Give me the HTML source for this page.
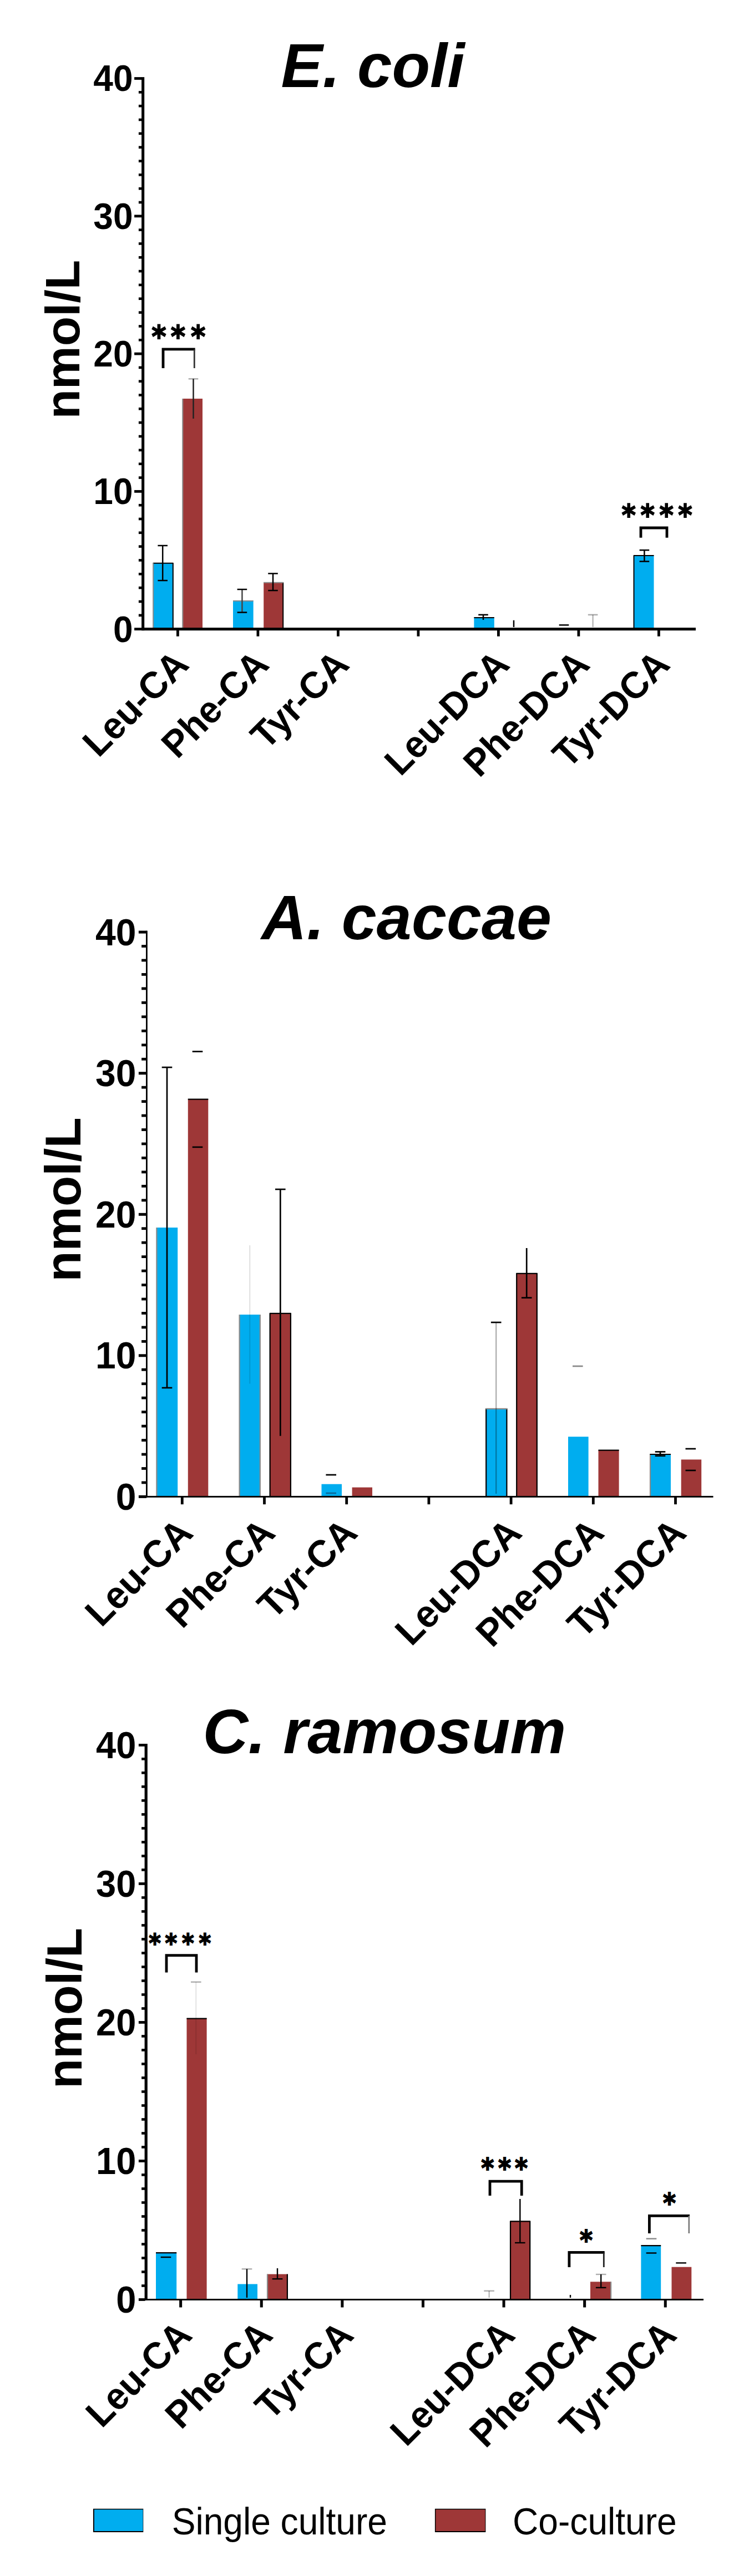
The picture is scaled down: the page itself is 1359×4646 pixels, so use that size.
<!DOCTYPE html>
<html lang="en">
<head>
<meta charset="utf-8">
<title>Bile acid conjugates</title>
<style>
html,body{margin:0;padding:0;background:#fff;}
svg{display:block;}
text{font-family:"Liberation Sans",Arial,sans-serif;fill:#000;}
text.st{font-family:"DejaVu Sans","Liberation Sans",sans-serif;font-weight:bold;stroke:#000;stroke-width:1.8px;stroke-linejoin:miter;}
</style>
</head>
<body>
<svg width="1359" height="4646" viewBox="0 0 1359 4646">
<rect x="0" y="0" width="1359" height="4646" fill="#fff"/>
<rect x="275.7" y="1015.3" width="36.6" height="119.3" fill="#00adef"/>
<line x1="275.7" y1="1015.8" x2="312.3" y2="1015.8" stroke="#000" stroke-width="2"/>
<line x1="311.8" y1="1015.3" x2="311.8" y2="1134.6" stroke="#000" stroke-width="2"/>
<line x1="276.2" y1="1015.3" x2="276.2" y2="1134.6" stroke="#8a8a8a" stroke-width="2"/>
<rect x="328.8" y="719" width="36.2" height="415.6" fill="#9e3737"/>
<line x1="329.3" y1="719" x2="329.3" y2="1134.6" stroke="#8a8a8a" stroke-width="2"/>
<rect x="420" y="1083.2" width="36.6" height="51.4" fill="#00adef"/>
<line x1="420" y1="1083.7" x2="456.6" y2="1083.7" stroke="#8a8a8a" stroke-width="2"/>
<rect x="475.2" y="1050.3" width="35.5" height="84.3" fill="#9e3737"/>
<line x1="510.2" y1="1050.3" x2="510.2" y2="1134.6" stroke="#000" stroke-width="2"/>
<line x1="475.2" y1="1050.8" x2="510.7" y2="1050.8" stroke="#8a8a8a" stroke-width="2"/>
<rect x="854.4" y="1113.4" width="36.4" height="21.2" fill="#00adef"/>
<line x1="854.4" y1="1113.9" x2="890.8" y2="1113.9" stroke="#000" stroke-width="2"/>
<rect x="1142" y="1001.5" width="36.5" height="133.1" fill="#00adef"/>
<line x1="1142" y1="1002" x2="1178.5" y2="1002" stroke="#000" stroke-width="2"/>
<line x1="1142.5" y1="1001.5" x2="1142.5" y2="1134.6" stroke="#000" stroke-width="2"/>
<line x1="293.2" y1="984" x2="293.2" y2="1047" stroke="#000" stroke-width="2.5"/>
<line x1="284.4" y1="984" x2="302" y2="984" stroke="#000" stroke-width="2.5"/>
<line x1="284.4" y1="1047" x2="302" y2="1047" stroke="#000" stroke-width="2.5"/>
<line x1="348.5" y1="683.3" x2="348.5" y2="755" stroke="#222" stroke-width="2.5"/>
<line x1="339.7" y1="683.3" x2="357.3" y2="683.3" stroke="#000" stroke-width="2.5" stroke-opacity="0.32"/>
<line x1="436.4" y1="1063" x2="436.4" y2="1104.5" stroke="#444" stroke-width="2.5"/>
<line x1="427.6" y1="1063" x2="445.2" y2="1063" stroke="#000" stroke-width="2.5"/>
<line x1="427.6" y1="1104.5" x2="445.2" y2="1104.5" stroke="#000" stroke-width="2.5"/>
<line x1="492" y1="1034.4" x2="492" y2="1065" stroke="#000" stroke-width="2.5"/>
<line x1="483.2" y1="1034.4" x2="500.8" y2="1034.4" stroke="#000" stroke-width="2.5"/>
<line x1="483.2" y1="1065" x2="500.8" y2="1065" stroke="#000" stroke-width="2.5"/>
<line x1="871" y1="1108.8" x2="871" y2="1118" stroke="#000" stroke-width="2.5"/>
<line x1="862.2" y1="1108.8" x2="879.8" y2="1108.8" stroke="#000" stroke-width="2.5"/>
<line x1="926" y1="1118.7" x2="926" y2="1131" stroke="#000" stroke-width="2.5"/>
<line x1="1007.7" y1="1127.3" x2="1025.3" y2="1127.3" stroke="#000" stroke-width="2.5"/>
<line x1="1068.6" y1="1108.8" x2="1068.6" y2="1131" stroke="#000" stroke-width="2.12" stroke-opacity="0.32"/>
<line x1="1059.8" y1="1108.8" x2="1077.4" y2="1108.8" stroke="#000" stroke-width="2.5" stroke-opacity="0.32"/>
<line x1="1161.4" y1="992.2" x2="1161.4" y2="1012.6" stroke="#000" stroke-width="2.5"/>
<line x1="1152.6" y1="992.2" x2="1170.2" y2="992.2" stroke="#000" stroke-width="2.5"/>
<line x1="1152.6" y1="1012.6" x2="1170.2" y2="1012.6" stroke="#000" stroke-width="2.5"/>
<rect x="255.1" y="139.1" width="5.1" height="998.05" fill="#000"/>
<rect x="255.1" y="1132.05" width="998.9" height="5.1" fill="#000"/>
<rect x="242.1" y="1132.2" width="14" height="4.8" fill="#000"/>
<rect x="249.9" y="1107.47" width="6.2" height="4.6" fill="#000"/>
<rect x="249.9" y="1082.64" width="6.2" height="4.6" fill="#000"/>
<rect x="249.9" y="1057.82" width="6.2" height="4.6" fill="#000"/>
<rect x="249.9" y="1032.99" width="6.2" height="4.6" fill="#000"/>
<rect x="249.9" y="1008.16" width="6.2" height="4.6" fill="#000"/>
<rect x="249.9" y="983.34" width="6.2" height="4.6" fill="#000"/>
<rect x="249.9" y="958.51" width="6.2" height="4.6" fill="#000"/>
<rect x="249.9" y="933.68" width="6.2" height="4.6" fill="#000"/>
<rect x="249.9" y="908.85" width="6.2" height="4.6" fill="#000"/>
<rect x="242.1" y="883.92" width="14" height="4.8" fill="#000"/>
<rect x="249.9" y="859.2" width="6.2" height="4.6" fill="#000"/>
<rect x="249.9" y="834.37" width="6.2" height="4.6" fill="#000"/>
<rect x="249.9" y="809.54" width="6.2" height="4.6" fill="#000"/>
<rect x="249.9" y="784.71" width="6.2" height="4.6" fill="#000"/>
<rect x="249.9" y="759.89" width="6.2" height="4.6" fill="#000"/>
<rect x="249.9" y="735.06" width="6.2" height="4.6" fill="#000"/>
<rect x="249.9" y="710.23" width="6.2" height="4.6" fill="#000"/>
<rect x="249.9" y="685.4" width="6.2" height="4.6" fill="#000"/>
<rect x="249.9" y="660.58" width="6.2" height="4.6" fill="#000"/>
<rect x="242.1" y="635.65" width="14" height="4.8" fill="#000"/>
<rect x="249.9" y="610.92" width="6.2" height="4.6" fill="#000"/>
<rect x="249.9" y="586.1" width="6.2" height="4.6" fill="#000"/>
<rect x="249.9" y="561.27" width="6.2" height="4.6" fill="#000"/>
<rect x="249.9" y="536.44" width="6.2" height="4.6" fill="#000"/>
<rect x="249.9" y="511.61" width="6.2" height="4.6" fill="#000"/>
<rect x="249.9" y="486.79" width="6.2" height="4.6" fill="#000"/>
<rect x="249.9" y="461.96" width="6.2" height="4.6" fill="#000"/>
<rect x="249.9" y="437.13" width="6.2" height="4.6" fill="#000"/>
<rect x="249.9" y="412.3" width="6.2" height="4.6" fill="#000"/>
<rect x="242.1" y="387.38" width="14" height="4.8" fill="#000"/>
<rect x="249.9" y="362.65" width="6.2" height="4.6" fill="#000"/>
<rect x="249.9" y="337.82" width="6.2" height="4.6" fill="#000"/>
<rect x="249.9" y="312.99" width="6.2" height="4.6" fill="#000"/>
<rect x="249.9" y="288.17" width="6.2" height="4.6" fill="#000"/>
<rect x="249.9" y="263.34" width="6.2" height="4.6" fill="#000"/>
<rect x="249.9" y="238.51" width="6.2" height="4.6" fill="#000"/>
<rect x="249.9" y="213.68" width="6.2" height="4.6" fill="#000"/>
<rect x="249.9" y="188.85" width="6.2" height="4.6" fill="#000"/>
<rect x="249.9" y="164.03" width="6.2" height="4.6" fill="#000"/>
<rect x="242.1" y="139.1" width="14" height="4.8" fill="#000"/>
<text transform="translate(239.5 1157.51) scale(1 1.04)" font-size="64" font-weight="bold" font-style="normal" text-anchor="end">0</text>
<text transform="translate(239.5 909.24) scale(1 1.04)" font-size="64" font-weight="bold" font-style="normal" text-anchor="end">10</text>
<text transform="translate(239.5 660.96) scale(1 1.04)" font-size="64" font-weight="bold" font-style="normal" text-anchor="end">20</text>
<text transform="translate(239.5 412.69) scale(1 1.04)" font-size="64" font-weight="bold" font-style="normal" text-anchor="end">30</text>
<text transform="translate(239.5 164.41) scale(1 1.04)" font-size="64" font-weight="bold" font-style="normal" text-anchor="end">40</text>
<rect x="318" y="1134.6" width="4.8" height="13.1" fill="#000"/>
<rect x="462.5" y="1134.6" width="4.8" height="13.1" fill="#000"/>
<rect x="607" y="1134.6" width="4.8" height="13.1" fill="#000"/>
<rect x="751.5" y="1134.6" width="4.8" height="13.1" fill="#000"/>
<rect x="896" y="1134.6" width="4.8" height="13.1" fill="#000"/>
<rect x="1040.5" y="1134.6" width="4.8" height="13.1" fill="#000"/>
<rect x="1185" y="1134.6" width="4.8" height="13.1" fill="#000"/>
<text transform="translate(343.4 1202.1) rotate(-45) scale(1 1.03)" font-size="66" font-weight="bold" font-style="normal" text-anchor="end">Leu-CA</text>
<text transform="translate(487.9 1202.1) rotate(-45) scale(1 1.03)" font-size="66" font-weight="bold" font-style="normal" text-anchor="end">Phe-CA</text>
<text transform="translate(632.4 1202.1) rotate(-45) scale(1 1.03)" font-size="66" font-weight="bold" font-style="normal" text-anchor="end">Tyr-CA</text>
<text transform="translate(921.4 1202.1) rotate(-45) scale(1 1.03)" font-size="66" font-weight="bold" font-style="normal" text-anchor="end">Leu-DCA</text>
<text transform="translate(1065.9 1202.1) rotate(-45) scale(1 1.03)" font-size="66" font-weight="bold" font-style="normal" text-anchor="end">Phe-DCA</text>
<text transform="translate(1210.4 1202.1) rotate(-45) scale(1 1.03)" font-size="66" font-weight="bold" font-style="normal" text-anchor="end">Tyr-DCA</text>
<text transform="translate(142.5 612.1) rotate(-90) scale(1 1.005)" font-size="87.5" font-weight="bold" font-style="normal" text-anchor="middle">nmol/L</text>
<text transform="translate(672 156.8) scale(1.03 1.025)" font-size="109.2" font-weight="bold" font-style="italic" text-anchor="middle">E. coli</text>
<path d="M294 664 V629.8 H351.7" fill="none" stroke="#000" stroke-width="4.8" stroke-linejoin="miter"/>
<line x1="350.3" y1="629.8" x2="350.3" y2="664" stroke="#333" stroke-width="2.8"/>
<text class="st" transform="translate(273.29 626.1) scale(0.9 1)" x="0 38.33 78.67" y="0" font-size="56">***</text>
<path d="M1155 969.7 V952 H1202 V969.7" fill="none" stroke="#000" stroke-width="4.8" stroke-linejoin="miter"/>
<text class="st" transform="translate(1120.43 947.8) scale(0.9 1)" x="0 38 75.78 113.11" y="0" font-size="54">****</text>
<rect x="281.8" y="2214" width="38.4" height="485.4" fill="#00adef"/>
<line x1="282.4" y1="2214" x2="282.4" y2="2699.4" stroke="#8a8a8a" stroke-width="2.2"/>
<rect x="338.8" y="1982" width="36.5" height="717.4" fill="#9e3737"/>
<line x1="338.8" y1="1982.6" x2="375.3" y2="1982.6" stroke="#000" stroke-width="2.2"/>
<rect x="431" y="2371" width="38.4" height="328.4" fill="#00adef"/>
<line x1="431.6" y1="2371" x2="431.6" y2="2699.4" stroke="#8a8a8a" stroke-width="2.2"/>
<line x1="468.8" y1="2371" x2="468.8" y2="2699.4" stroke="#8a8a8a" stroke-width="2.2"/>
<rect x="486" y="2368.3" width="38.5" height="331.1" fill="#9e3737"/>
<line x1="486.6" y1="2368.3" x2="486.6" y2="2699.4" stroke="#000" stroke-width="2.2"/>
<line x1="486" y1="2368.9" x2="524.5" y2="2368.9" stroke="#000" stroke-width="2.2"/>
<line x1="523.9" y1="2368.3" x2="523.9" y2="2699.4" stroke="#000" stroke-width="2.2"/>
<rect x="579.5" y="2676.7" width="36.5" height="22.7" fill="#00adef"/>
<rect x="634.6" y="2682.6" width="36.4" height="16.8" fill="#9e3737"/>
<rect x="875.6" y="2540.2" width="38.4" height="159.2" fill="#00adef"/>
<line x1="876.2" y1="2540.2" x2="876.2" y2="2699.4" stroke="#000" stroke-width="2.2"/>
<line x1="913.4" y1="2540.2" x2="913.4" y2="2699.4" stroke="#000" stroke-width="2.2"/>
<line x1="875.6" y1="2540.8" x2="914" y2="2540.8" stroke="#8a8a8a" stroke-width="2.2"/>
<rect x="930.6" y="2296.2" width="37.8" height="403.2" fill="#9e3737"/>
<line x1="931.2" y1="2296.2" x2="931.2" y2="2699.4" stroke="#000" stroke-width="2.2"/>
<line x1="930.6" y1="2296.8" x2="968.4" y2="2296.8" stroke="#000" stroke-width="2.2"/>
<line x1="967.8" y1="2296.2" x2="967.8" y2="2699.4" stroke="#000" stroke-width="2.2"/>
<rect x="1024" y="2591.2" width="36.6" height="108.2" fill="#00adef"/>
<rect x="1078.5" y="2615" width="37.1" height="84.4" fill="#9e3737"/>
<line x1="1078.5" y1="2615.6" x2="1115.6" y2="2615.6" stroke="#000" stroke-width="2.2"/>
<rect x="1171.4" y="2622.4" width="37.6" height="77" fill="#00adef"/>
<line x1="1172" y1="2622.4" x2="1172" y2="2699.4" stroke="#8a8a8a" stroke-width="2.2"/>
<line x1="1171.4" y1="2623" x2="1209" y2="2623" stroke="#000" stroke-width="2.2"/>
<rect x="1227.7" y="2632.4" width="36.5" height="67" fill="#9e3737"/>
<line x1="301" y1="1925" x2="301" y2="2503" stroke="#000" stroke-width="2.7"/>
<line x1="291.7" y1="1925" x2="310.3" y2="1925" stroke="#000" stroke-width="2.7"/>
<line x1="291.7" y1="2503" x2="310.3" y2="2503" stroke="#000" stroke-width="2.7"/>
<line x1="346.7" y1="1896.5" x2="365.3" y2="1896.5" stroke="#000" stroke-width="2.7"/>
<line x1="346.7" y1="2068.9" x2="365.3" y2="2068.9" stroke="#000" stroke-width="2.7"/>
<line x1="450.2" y1="2246" x2="450.2" y2="2495.6" stroke="#000" stroke-width="2.29" stroke-opacity="0.11"/>
<line x1="505.3" y1="2145" x2="505.3" y2="2589.8" stroke="#000" stroke-width="2.7"/>
<line x1="496" y1="2145" x2="514.6" y2="2145" stroke="#000" stroke-width="2.7"/>
<line x1="587.4" y1="2660" x2="606" y2="2660" stroke="#000" stroke-width="2.7"/>
<line x1="587.4" y1="2693" x2="606" y2="2693" stroke="#0b6a9a" stroke-width="2.7"/>
<line x1="894.2" y1="2385" x2="894.2" y2="2694" stroke="#000" stroke-width="2.29" stroke-opacity="0.32"/>
<line x1="884.9" y1="2385" x2="903.5" y2="2385" stroke="#000" stroke-width="2.7"/>
<line x1="949.2" y1="2251" x2="949.2" y2="2340.6" stroke="#000" stroke-width="2.7"/>
<line x1="939.9" y1="2340.6" x2="958.5" y2="2340.6" stroke="#000" stroke-width="2.7"/>
<line x1="1032" y1="2464" x2="1050.6" y2="2464" stroke="#888" stroke-width="2.7"/>
<line x1="1190" y1="2618.4" x2="1190" y2="2625.7" stroke="#000" stroke-width="2.7"/>
<line x1="1180.7" y1="2618.4" x2="1199.3" y2="2618.4" stroke="#000" stroke-width="2.7"/>
<line x1="1180.7" y1="2625.7" x2="1199.3" y2="2625.7" stroke="#000" stroke-width="2.7"/>
<line x1="1235.5" y1="2613" x2="1254.1" y2="2613" stroke="#000" stroke-width="2.7"/>
<line x1="1235.5" y1="2652" x2="1254.1" y2="2652" stroke="#000" stroke-width="2.7"/>
<rect x="263" y="1678.6" width="2.8" height="1022.25" fill="#000"/>
<rect x="263" y="2697.95" width="1022.5" height="2.9" fill="#000"/>
<rect x="249.9" y="2696.9" width="14.1" height="5" fill="#000"/>
<rect x="255.1" y="2671.54" width="8.9" height="4.8" fill="#000"/>
<rect x="255.1" y="2646.09" width="8.9" height="4.8" fill="#000"/>
<rect x="255.1" y="2620.63" width="8.9" height="4.8" fill="#000"/>
<rect x="255.1" y="2595.17" width="8.9" height="4.8" fill="#000"/>
<rect x="255.1" y="2569.71" width="8.9" height="4.8" fill="#000"/>
<rect x="255.1" y="2544.26" width="8.9" height="4.8" fill="#000"/>
<rect x="255.1" y="2518.8" width="8.9" height="4.8" fill="#000"/>
<rect x="255.1" y="2493.34" width="8.9" height="4.8" fill="#000"/>
<rect x="255.1" y="2467.88" width="8.9" height="4.8" fill="#000"/>
<rect x="249.9" y="2442.32" width="14.1" height="5" fill="#000"/>
<rect x="255.1" y="2416.97" width="8.9" height="4.8" fill="#000"/>
<rect x="255.1" y="2391.51" width="8.9" height="4.8" fill="#000"/>
<rect x="255.1" y="2366.05" width="8.9" height="4.8" fill="#000"/>
<rect x="255.1" y="2340.59" width="8.9" height="4.8" fill="#000"/>
<rect x="255.1" y="2315.14" width="8.9" height="4.8" fill="#000"/>
<rect x="255.1" y="2289.68" width="8.9" height="4.8" fill="#000"/>
<rect x="255.1" y="2264.22" width="8.9" height="4.8" fill="#000"/>
<rect x="255.1" y="2238.76" width="8.9" height="4.8" fill="#000"/>
<rect x="255.1" y="2213.31" width="8.9" height="4.8" fill="#000"/>
<rect x="249.9" y="2187.75" width="14.1" height="5" fill="#000"/>
<rect x="255.1" y="2162.39" width="8.9" height="4.8" fill="#000"/>
<rect x="255.1" y="2136.93" width="8.9" height="4.8" fill="#000"/>
<rect x="255.1" y="2111.48" width="8.9" height="4.8" fill="#000"/>
<rect x="255.1" y="2086.02" width="8.9" height="4.8" fill="#000"/>
<rect x="255.1" y="2060.56" width="8.9" height="4.8" fill="#000"/>
<rect x="255.1" y="2035.11" width="8.9" height="4.8" fill="#000"/>
<rect x="255.1" y="2009.65" width="8.9" height="4.8" fill="#000"/>
<rect x="255.1" y="1984.19" width="8.9" height="4.8" fill="#000"/>
<rect x="255.1" y="1958.73" width="8.9" height="4.8" fill="#000"/>
<rect x="249.9" y="1933.17" width="14.1" height="5" fill="#000"/>
<rect x="255.1" y="1907.82" width="8.9" height="4.8" fill="#000"/>
<rect x="255.1" y="1882.36" width="8.9" height="4.8" fill="#000"/>
<rect x="255.1" y="1856.9" width="8.9" height="4.8" fill="#000"/>
<rect x="255.1" y="1831.44" width="8.9" height="4.8" fill="#000"/>
<rect x="255.1" y="1805.99" width="8.9" height="4.8" fill="#000"/>
<rect x="255.1" y="1780.53" width="8.9" height="4.8" fill="#000"/>
<rect x="255.1" y="1755.07" width="8.9" height="4.8" fill="#000"/>
<rect x="255.1" y="1729.61" width="8.9" height="4.8" fill="#000"/>
<rect x="255.1" y="1704.16" width="8.9" height="4.8" fill="#000"/>
<rect x="249.9" y="1678.6" width="14.1" height="5" fill="#000"/>
<text transform="translate(245.5 2723.03) scale(1 1.04)" font-size="66" font-weight="bold" font-style="normal" text-anchor="end">0</text>
<text transform="translate(245.5 2468.45) scale(1 1.04)" font-size="66" font-weight="bold" font-style="normal" text-anchor="end">10</text>
<text transform="translate(245.5 2213.88) scale(1 1.04)" font-size="66" font-weight="bold" font-style="normal" text-anchor="end">20</text>
<text transform="translate(245.5 1959.3) scale(1 1.04)" font-size="66" font-weight="bold" font-style="normal" text-anchor="end">30</text>
<text transform="translate(245.5 1704.73) scale(1 1.04)" font-size="66" font-weight="bold" font-style="normal" text-anchor="end">40</text>
<rect x="325.9" y="2699.4" width="4.8" height="13.8" fill="#000"/>
<rect x="474.1" y="2699.4" width="4.8" height="13.8" fill="#000"/>
<rect x="622.3" y="2699.4" width="4.8" height="13.8" fill="#000"/>
<rect x="770.5" y="2699.4" width="4.8" height="13.8" fill="#000"/>
<rect x="918.7" y="2699.4" width="4.8" height="13.8" fill="#000"/>
<rect x="1066.9" y="2699.4" width="4.8" height="13.8" fill="#000"/>
<rect x="1215.1" y="2699.4" width="4.8" height="13.8" fill="#000"/>
<text transform="translate(351 2768.4) rotate(-45) scale(1 1.03)" font-size="67" font-weight="bold" font-style="normal" text-anchor="end">Leu-CA</text>
<text transform="translate(499.2 2768.4) rotate(-45) scale(1 1.03)" font-size="67" font-weight="bold" font-style="normal" text-anchor="end">Phe-CA</text>
<text transform="translate(647.4 2768.4) rotate(-45) scale(1 1.03)" font-size="67" font-weight="bold" font-style="normal" text-anchor="end">Tyr-CA</text>
<text transform="translate(943.8 2768.4) rotate(-45) scale(1 1.03)" font-size="67" font-weight="bold" font-style="normal" text-anchor="end">Leu-DCA</text>
<text transform="translate(1092 2768.4) rotate(-45) scale(1 1.03)" font-size="67" font-weight="bold" font-style="normal" text-anchor="end">Phe-DCA</text>
<text transform="translate(1240.2 2768.4) rotate(-45) scale(1 1.03)" font-size="67" font-weight="bold" font-style="normal" text-anchor="end">Tyr-DCA</text>
<text transform="translate(144.6 2163.5) rotate(-90) scale(1 1.005)" font-size="90.5" font-weight="bold" font-style="normal" text-anchor="middle">nmol/L</text>
<text transform="translate(732.5 1694) scale(1.03 1.025)" font-size="110" font-weight="bold" font-style="italic" text-anchor="middle">A. caccae</text>
<rect x="281" y="4062.5" width="37.2" height="85" fill="#00adef"/>
<line x1="281" y1="4063.1" x2="318.2" y2="4063.1" stroke="#000" stroke-width="2.2"/>
<rect x="336.5" y="3640" width="36.1" height="507.5" fill="#9e3737"/>
<line x1="336.5" y1="3640.6" x2="372.6" y2="3640.6" stroke="#000" stroke-width="2.2"/>
<rect x="428.3" y="4119.5" width="35.7" height="28" fill="#00adef"/>
<rect x="481.4" y="4101.6" width="37.1" height="45.9" fill="#9e3737"/>
<line x1="482" y1="4101.6" x2="482" y2="4147.5" stroke="#8a8a8a" stroke-width="2.2"/>
<line x1="517.9" y1="4101.6" x2="517.9" y2="4147.5" stroke="#000" stroke-width="2.2"/>
<rect x="919.4" y="4005.8" width="36.4" height="141.7" fill="#9e3737"/>
<line x1="920" y1="4005.8" x2="920" y2="4147.5" stroke="#000" stroke-width="2.2"/>
<line x1="919.4" y1="4006.4" x2="955.8" y2="4006.4" stroke="#000" stroke-width="2.2"/>
<line x1="955.2" y1="4005.8" x2="955.2" y2="4147.5" stroke="#000" stroke-width="2.2"/>
<rect x="1064" y="4115.3" width="37.7" height="32.2" fill="#9e3737"/>
<line x1="1101.1" y1="4115.3" x2="1101.1" y2="4147.5" stroke="#8a8a8a" stroke-width="2.2"/>
<rect x="1155.4" y="4049.6" width="35.8" height="97.9" fill="#00adef"/>
<line x1="1155.4" y1="4050.2" x2="1191.2" y2="4050.2" stroke="#000" stroke-width="2.2"/>
<rect x="1210.5" y="4088.7" width="35.8" height="58.8" fill="#9e3737"/>
<line x1="289.7" y1="4071" x2="308.3" y2="4071" stroke="#000" stroke-width="2.4"/>
<line x1="353.3" y1="3574.7" x2="353.3" y2="3705" stroke="#000" stroke-width="2.04" stroke-opacity="0.11"/>
<line x1="344" y1="3574.7" x2="362.6" y2="3574.7" stroke="#000" stroke-width="2.4" stroke-opacity="0.32"/>
<line x1="445" y1="4092.3" x2="445" y2="4144" stroke="#000" stroke-width="2.4"/>
<line x1="435.7" y1="4092.3" x2="454.3" y2="4092.3" stroke="#000" stroke-width="2.4" stroke-opacity="0.32"/>
<line x1="500" y1="4091" x2="500" y2="4110.2" stroke="#000" stroke-width="2.4"/>
<line x1="490.7" y1="4110.2" x2="509.3" y2="4110.2" stroke="#000" stroke-width="2.4"/>
<line x1="881.6" y1="4131.8" x2="881.6" y2="4144" stroke="#000" stroke-width="2.04" stroke-opacity="0.32"/>
<line x1="872.3" y1="4131.8" x2="890.9" y2="4131.8" stroke="#000" stroke-width="2.4" stroke-opacity="0.32"/>
<line x1="937.3" y1="3966" x2="937.3" y2="4045" stroke="#000" stroke-width="2.4"/>
<line x1="928" y1="4045" x2="946.6" y2="4045" stroke="#000" stroke-width="2.4"/>
<line x1="1028" y1="4139" x2="1028" y2="4144" stroke="#000" stroke-width="2.4"/>
<line x1="1083.2" y1="4102" x2="1083.2" y2="4125.9" stroke="#000" stroke-width="2.4"/>
<line x1="1073.9" y1="4102" x2="1092.5" y2="4102" stroke="#000" stroke-width="2.4" stroke-opacity="0.32"/>
<line x1="1073.9" y1="4125.9" x2="1092.5" y2="4125.9" stroke="#000" stroke-width="2.4"/>
<line x1="1164.7" y1="4037.7" x2="1183.3" y2="4037.7" stroke="#888" stroke-width="2.4"/>
<line x1="1164.7" y1="4063.5" x2="1183.3" y2="4063.5" stroke="#000" stroke-width="2.4"/>
<line x1="1218.3" y1="4081.4" x2="1236.9" y2="4081.4" stroke="#000" stroke-width="2.4"/>
<rect x="260.6" y="3145" width="5.2" height="1003.95" fill="#000"/>
<rect x="260.6" y="4146.05" width="1007.4" height="2.9" fill="#000"/>
<rect x="249.9" y="4145.1" width="11.7" height="4.8" fill="#000"/>
<rect x="255.1" y="4120.2" width="6.5" height="4.6" fill="#000"/>
<rect x="255.1" y="4095.19" width="6.5" height="4.6" fill="#000"/>
<rect x="255.1" y="4070.19" width="6.5" height="4.6" fill="#000"/>
<rect x="255.1" y="4045.19" width="6.5" height="4.6" fill="#000"/>
<rect x="255.1" y="4020.19" width="6.5" height="4.6" fill="#000"/>
<rect x="255.1" y="3995.18" width="6.5" height="4.6" fill="#000"/>
<rect x="255.1" y="3970.18" width="6.5" height="4.6" fill="#000"/>
<rect x="255.1" y="3945.18" width="6.5" height="4.6" fill="#000"/>
<rect x="255.1" y="3920.18" width="6.5" height="4.6" fill="#000"/>
<rect x="249.9" y="3895.07" width="11.7" height="4.8" fill="#000"/>
<rect x="255.1" y="3870.17" width="6.5" height="4.6" fill="#000"/>
<rect x="255.1" y="3845.17" width="6.5" height="4.6" fill="#000"/>
<rect x="255.1" y="3820.17" width="6.5" height="4.6" fill="#000"/>
<rect x="255.1" y="3795.16" width="6.5" height="4.6" fill="#000"/>
<rect x="255.1" y="3770.16" width="6.5" height="4.6" fill="#000"/>
<rect x="255.1" y="3745.16" width="6.5" height="4.6" fill="#000"/>
<rect x="255.1" y="3720.16" width="6.5" height="4.6" fill="#000"/>
<rect x="255.1" y="3695.15" width="6.5" height="4.6" fill="#000"/>
<rect x="255.1" y="3670.15" width="6.5" height="4.6" fill="#000"/>
<rect x="249.9" y="3645.05" width="11.7" height="4.8" fill="#000"/>
<rect x="255.1" y="3620.15" width="6.5" height="4.6" fill="#000"/>
<rect x="255.1" y="3595.14" width="6.5" height="4.6" fill="#000"/>
<rect x="255.1" y="3570.14" width="6.5" height="4.6" fill="#000"/>
<rect x="255.1" y="3545.14" width="6.5" height="4.6" fill="#000"/>
<rect x="255.1" y="3520.14" width="6.5" height="4.6" fill="#000"/>
<rect x="255.1" y="3495.13" width="6.5" height="4.6" fill="#000"/>
<rect x="255.1" y="3470.13" width="6.5" height="4.6" fill="#000"/>
<rect x="255.1" y="3445.13" width="6.5" height="4.6" fill="#000"/>
<rect x="255.1" y="3420.13" width="6.5" height="4.6" fill="#000"/>
<rect x="249.9" y="3395.03" width="11.7" height="4.8" fill="#000"/>
<rect x="255.1" y="3370.12" width="6.5" height="4.6" fill="#000"/>
<rect x="255.1" y="3345.12" width="6.5" height="4.6" fill="#000"/>
<rect x="255.1" y="3320.12" width="6.5" height="4.6" fill="#000"/>
<rect x="255.1" y="3295.11" width="6.5" height="4.6" fill="#000"/>
<rect x="255.1" y="3270.11" width="6.5" height="4.6" fill="#000"/>
<rect x="255.1" y="3245.11" width="6.5" height="4.6" fill="#000"/>
<rect x="255.1" y="3220.11" width="6.5" height="4.6" fill="#000"/>
<rect x="255.1" y="3195.11" width="6.5" height="4.6" fill="#000"/>
<rect x="255.1" y="3170.1" width="6.5" height="4.6" fill="#000"/>
<rect x="249.9" y="3145" width="11.7" height="4.8" fill="#000"/>
<text transform="translate(245.3 4170.77) scale(1 1.04)" font-size="65" font-weight="bold" font-style="normal" text-anchor="end">0</text>
<text transform="translate(245.3 3920.74) scale(1 1.04)" font-size="65" font-weight="bold" font-style="normal" text-anchor="end">10</text>
<text transform="translate(245.3 3670.72) scale(1 1.04)" font-size="65" font-weight="bold" font-style="normal" text-anchor="end">20</text>
<text transform="translate(245.3 3420.7) scale(1 1.04)" font-size="65" font-weight="bold" font-style="normal" text-anchor="end">30</text>
<text transform="translate(245.3 3170.67) scale(1 1.04)" font-size="65" font-weight="bold" font-style="normal" text-anchor="end">40</text>
<rect x="323.15" y="4147.5" width="5" height="14" fill="#000"/>
<rect x="468.75" y="4147.5" width="5" height="14" fill="#000"/>
<rect x="614.35" y="4147.5" width="5" height="14" fill="#000"/>
<rect x="759.95" y="4147.5" width="5" height="14" fill="#000"/>
<rect x="905.55" y="4147.5" width="5" height="14" fill="#000"/>
<rect x="1051.15" y="4147.5" width="5" height="14" fill="#000"/>
<rect x="1196.75" y="4147.5" width="5" height="14" fill="#000"/>
<text transform="translate(349.15 4215) rotate(-45) scale(1 1.03)" font-size="66" font-weight="bold" font-style="normal" text-anchor="end">Leu-CA</text>
<text transform="translate(494.75 4215) rotate(-45) scale(1 1.03)" font-size="66" font-weight="bold" font-style="normal" text-anchor="end">Phe-CA</text>
<text transform="translate(640.35 4215) rotate(-45) scale(1 1.03)" font-size="66" font-weight="bold" font-style="normal" text-anchor="end">Tyr-CA</text>
<text transform="translate(931.55 4215) rotate(-45) scale(1 1.03)" font-size="66" font-weight="bold" font-style="normal" text-anchor="end">Leu-DCA</text>
<text transform="translate(1077.15 4215) rotate(-45) scale(1 1.03)" font-size="66" font-weight="bold" font-style="normal" text-anchor="end">Phe-DCA</text>
<text transform="translate(1222.75 4215) rotate(-45) scale(1 1.03)" font-size="66" font-weight="bold" font-style="normal" text-anchor="end">Tyr-DCA</text>
<text transform="translate(147.4 3622) rotate(-90) scale(1 1.005)" font-size="88.5" font-weight="bold" font-style="normal" text-anchor="middle">nmol/L</text>
<text transform="translate(692.8 3162) scale(1.03 1.025)" font-size="110" font-weight="bold" font-style="italic" text-anchor="middle">C. ramosum</text>
<path d="M300 3557.5 V3526.7 H354 V3557.5" fill="none" stroke="#000" stroke-width="4.8" stroke-linejoin="miter"/>
<text class="st" transform="translate(268.17 3520.8) scale(0.9 1)" x="0 32.56 66.44 100.33" y="0" font-size="46">****</text>
<path d="M883 3960.1 V3934.2 H940.2 V3960.1" fill="none" stroke="#000" stroke-width="4.8" stroke-linejoin="miter"/>
<text class="st" transform="translate(867.32 3928) scale(0.9 1)" x="0 34.22 67.44" y="0" font-size="49">***</text>
<path d="M1025.9 4089 V4062.4 H1089.7" fill="none" stroke="#000" stroke-width="4.8" stroke-linejoin="miter"/>
<line x1="1088.3" y1="4062.4" x2="1088.3" y2="4089" stroke="#222" stroke-width="2.8"/>
<text class="st" transform="translate(1044.92 4057.8) scale(0.9 1)" x="0" y="0" font-size="49">*</text>
<path d="M1170.4 4028 V3996.4 H1243.1" fill="none" stroke="#000" stroke-width="4.8" stroke-linejoin="miter"/>
<line x1="1241.8" y1="3996.4" x2="1241.8" y2="4028" stroke="#777" stroke-width="2.6"/>
<text class="st" transform="translate(1194.92 3990.5) scale(0.9 1)" x="0" y="0" font-size="49">*</text>
<rect x="167.9" y="4524.7" width="90.4" height="42.3" fill="#000"/>
<rect x="169.9" y="4526.2" width="87.7" height="38.8" fill="#00adef"/>
<text transform="translate(309.7 4570.8) scale(0.977 1.04)" font-size="65.6" font-weight="normal" font-style="normal" text-anchor="start">Single culture</text>
<rect x="783.9" y="4524.7" width="91.5" height="42.3" fill="#000"/>
<rect x="785.4" y="4526.2" width="89" height="38.8" fill="#9e3737"/>
<text transform="translate(924.1 4570.8) scale(0.977 1.04)" font-size="65.6" font-weight="normal" font-style="normal" text-anchor="start">Co-culture</text>
</svg>
</body>
</html>
